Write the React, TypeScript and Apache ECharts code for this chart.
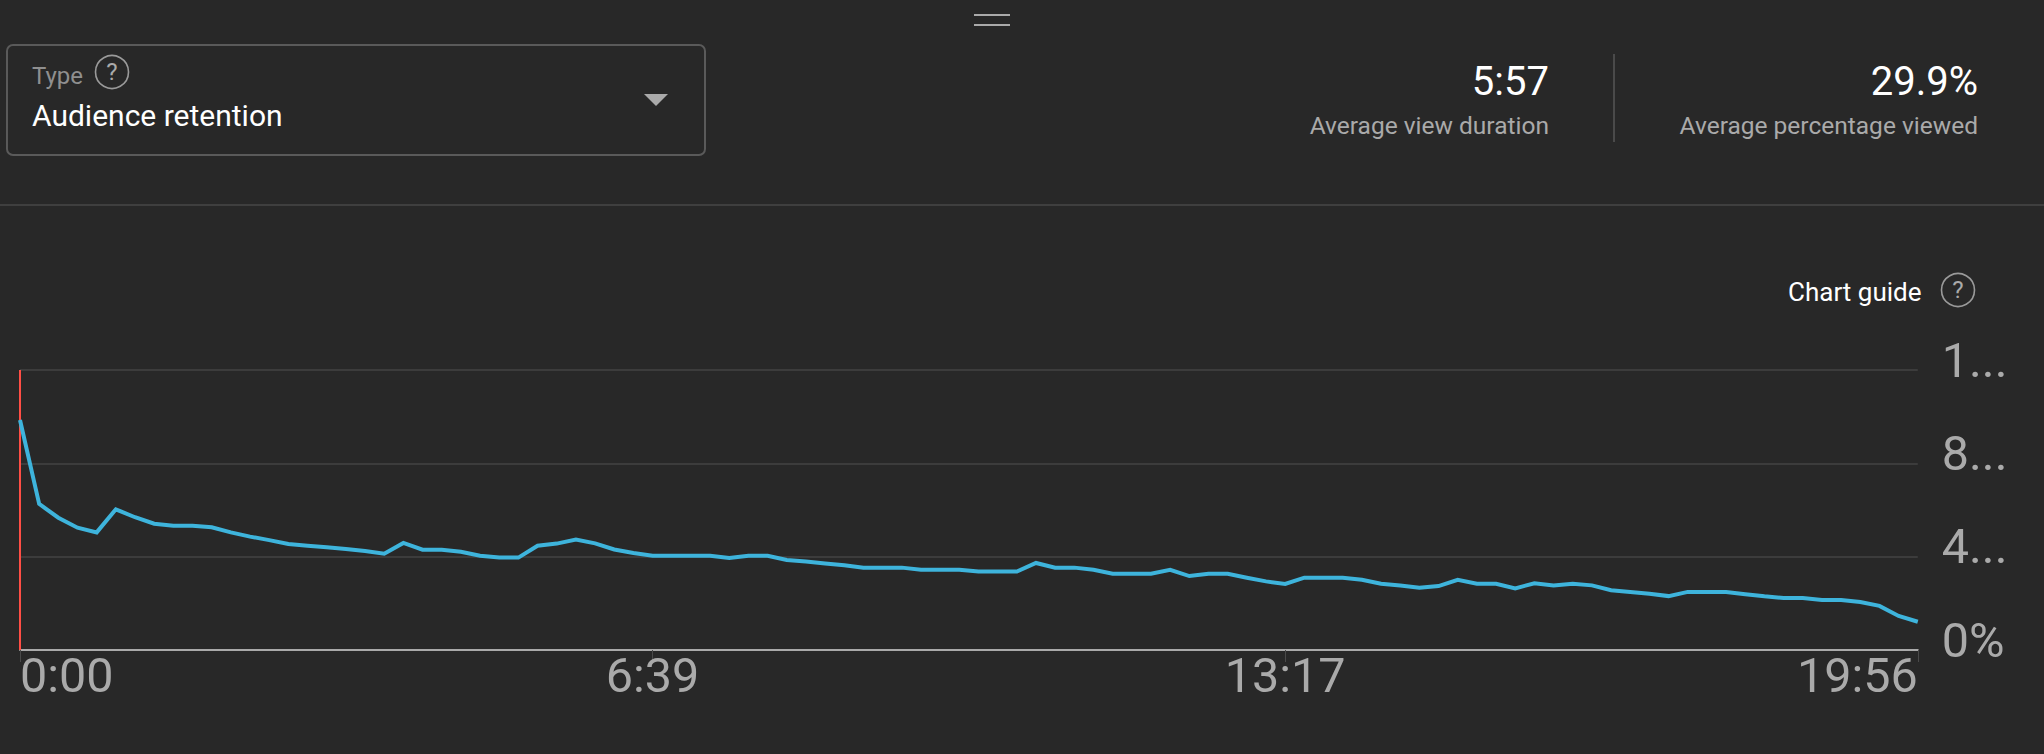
import React, { useEffect, useRef } from "react";
import * as echarts from "echarts";

const retention = [
  98.6, 62.6, 56.7, 52.4, 50.4, 60.3, 56.9, 54.1, 53.3, 53.3,
  52.6, 50.4, 48.6, 47.1, 45.4, 44.7, 44.0, 43.3, 42.4, 41.3,
  45.9, 43.0, 43.0, 42.1, 40.4, 39.6, 39.6, 44.7, 45.6, 47.3,
  45.7, 43.1, 41.6, 40.4, 40.4, 40.4, 40.4, 39.4, 40.4, 40.4,
  38.6, 37.9, 37.1, 36.3, 35.3, 35.3, 35.3, 34.4, 34.4, 34.4,
  33.6, 33.6, 33.6, 37.3, 35.3, 35.3, 34.4, 32.7, 32.7, 32.7,
  34.4, 31.7, 32.7, 32.7, 31.0, 29.4, 28.3, 31.0, 31.0, 31.0,
  30.1, 28.4, 27.6, 26.7, 27.4, 30.1, 28.4, 28.4, 26.4, 28.6,
  27.6, 28.4, 27.7, 25.6, 24.9, 24.1, 23.1, 24.9, 24.9, 24.9,
  23.9, 23.0, 22.3, 22.3, 21.4, 21.4, 20.6, 18.9, 14.6, 12.1,
];
const pointIndices = retention.map((_, i) => i);
const tickIndices = [0, 33, 66, 99];
const tickLabels = ["0:00", "6:39", "13:17", "19:56"];
const yTicks = [0, 40, 80, 120];
const yLabels = ["0%", "4...", "8...", "1..."];

const FONT = "Roboto";
const BG = "#282828";
const MUTED = "#aaaaaa";

function txt(text: string, x: number, y: number, size: number, fill: string, align = "left", weight: number | string = 400) {
  return {
    type: "text",
    x,
    y,
    silent: true,
    style: { text, fill, fontFamily: FONT, fontSize: size, fontWeight: weight, align, verticalAlign: "middle" },
  };
}

function help(cx: number, cy: number) {
  return [
    { type: "circle", shape: { cx, cy, r: 16.5 }, style: { fill: "transparent", stroke: "#9a9a9a", lineWidth: 1.6 }, silent: true },
    txt("?", cx, cy, 24, "#aaaaaa", "center"),
  ];
}

export default function App() {
  const ref = useRef<HTMLDivElement | null>(null);
  useEffect(() => {
    document.body.style.margin = "0";
    const chart = echarts.init(ref.current!, null, { renderer: "svg" });
    chart.setOption({
      animation: false,
      backgroundColor: BG,
      grid: { left: 20, right: 126.2, top: 370, height: 280, containLabel: false },
      xAxis: {
        type: "category",
        boundaryGap: false,
        data: pointIndices,
        axisLine: { show: true, lineStyle: { color: MUTED, width: 2 } },
        axisTick: {
          show: true,
          length: 12,
          interval: (i: number) => tickIndices.includes(i),
          lineStyle: { color: "#4a4a4a", width: 1 },
        },
        axisLabel: {
          interval: (i: number) => tickIndices.includes(i),
          formatter: (_: string, i: number) => tickLabels[tickIndices.indexOf(i)] ?? "",
          alignMinLabel: "left",
          alignMaxLabel: "right",
          color: MUTED,
          fontFamily: FONT,
          fontSize: 48.5,
          fontWeight: 400,
          margin: 1,
          hideOverlap: false,
        },
        splitLine: { show: false },
      },
      yAxis: {
        type: "value",
        position: "right",
        min: 0,
        max: 120,
        interval: 40,
        axisLine: { show: false },
        axisTick: { show: false },
        axisLabel: {
          formatter: (v: number) => yLabels[yTicks.indexOf(v)] ?? "",
          color: MUTED,
          fontFamily: FONT,
          fontSize: 48.5,
          fontWeight: 400,
          margin: 24,
          verticalAlign: "bottom",
          lineHeight: 20,
          hideOverlap: false,
        },
        splitLine: { show: true, lineStyle: { color: "#3c3c3c", width: 2 } },
      },
      series: [
        {
          type: "line",
          data: retention,
          showSymbol: false,
          smooth: false,
          clip: false,
          z: 5,
          lineStyle: { color: "#3eb4dc", width: 4, join: "miter" },
          markLine: {
            silent: true,
            symbol: "none",
            label: { show: false },
            lineStyle: { color: "#ff4e45", width: 2, type: "solid" },
            data: [{ xAxis: 0 }],
          },
        },
      ],
      graphic: {
        elements: [
          { type: "rect", shape: { x: 974, y: 14, width: 36, height: 2 }, style: { fill: MUTED }, silent: true },
          { type: "rect", shape: { x: 974, y: 24, width: 36, height: 2 }, style: { fill: MUTED }, silent: true },
          { type: "rect", shape: { x: 7, y: 45, width: 698, height: 110, r: 6 }, style: { fill: "transparent", stroke: "#5a5a5a", lineWidth: 2 }, silent: true },
          txt("Type", 32, 76, 24, "#8f8f8f"),
          ...help(112, 72),
          txt("Audience retention", 32, 115.5, 30, "#ffffff"),
          { type: "polygon", shape: { points: [[644, 94], [668, 94], [656, 106]] }, style: { fill: MUTED }, silent: true },
          txt("5:57", 1549, 81, 40, "#ffffff", "right"),
          txt("Average view duration", 1549, 125, 24.5, MUTED, "right"),
          { type: "rect", shape: { x: 1613, y: 54, width: 2, height: 88 }, style: { fill: "#4a4a4a" }, silent: true },
          txt("29.9%", 1978, 81, 40, "#ffffff", "right"),
          txt("Average percentage viewed", 1978, 125, 24.5, MUTED, "right"),
          { type: "rect", shape: { x: 0, y: 204, width: 2044, height: 2 }, style: { fill: "#3f3f3f" }, silent: true },
          txt("Chart guide", 1788, 292, 26, "#ffffff"),
          ...help(1958, 290),
        ],
      },
    });
    return () => chart.dispose();
  }, []);
  return <div ref={ref} style={{ width: 2044, height: 754 }} />;
}
